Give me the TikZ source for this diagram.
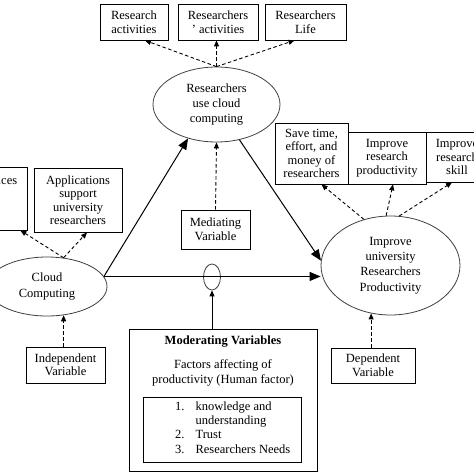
\documentclass[tikz,border=0pt]{standalone}
\usepackage{fontspec}
\setmainfont{Liberation Serif}
\usetikzlibrary{arrows.meta,calc,shapes.geometric}
\begin{document}
\begin{tikzpicture}[x=1pt,y=-1pt,
  every node/.style={font=\fontsize{12.5}{13.5}\selectfont, align=center, inner sep=0pt},
  box/.style={draw, line width=0.8pt, rectangle},
  ell/.style={draw=black!75, line width=0.8pt, ellipse},
  main/.style={line width=1pt, -{Triangle[length=11pt,width=9pt]}},
  dasharr/.style={line width=0.9pt, dash pattern=on 3.5pt off 2.5pt, -{Triangle[length=6pt,width=5pt]}},
  thinarr/.style={line width=1pt, -{Triangle[length=6pt,width=5pt]}}
]
\useasboundingbox (0,0) rectangle (474,474);
\fill[white] (0,0) rectangle (474,474);
\clip (0,0) rectangle (474,474);

% top row
\node[box, minimum width=68, minimum height=36] (ra) at (134,22) {Research\\activities};
\node[box, minimum width=80, minimum height=36] (rsa) at (218,22) {Researchers\\' activities};
\node[box, minimum width=81, minimum height=36] (rl) at (305.5,22) {Researchers\\Life};
\node[ell, minimum width=127, minimum height=75, font=\fontsize{12.5}{15}\selectfont] (top) at (216.5,104.5) {Researchers\\use cloud\\computing};

% left
\node[box, minimum width=62, minimum height=63] (svc) at (-4,198.5) {};
\node (svct) at (-4,180) {Services};
\node[box, minimum width=88, minimum height=64] (app) at (78,200) {Applications\\support\\university\\researchers};
\node[ell, minimum width=120, minimum height=59, font=\fontsize{12.5}{16}\selectfont] (cloud) at (47,286.5) {Cloud\\Computing};
\node[box, minimum width=79, minimum height=36] (indep) at (65.5,365) {Independent\\Variable};

% middle
\node[box, minimum width=69, minimum height=39] (med) at (215.5,229.5) {Mediating\\Variable};
\node[ell, minimum width=17, minimum height=26] (mell) at (212,277) {};
\node[box, minimum width=188, minimum height=142] (mod) at (223,400) {};
\node (modt) at (223,342) {\textbf{Moderating Variables}};
\node[font=\fontsize{12.5}{15}\selectfont] (modf) at (223,372.5) {Factors affecting of\\productivity (Human factor)};
\node[box, minimum width=158, minimum height=65] (inner) at (222,429.5) {};
\node[anchor=west, font=\fontsize{12.5}{14.2}\selectfont] (list) at (175,429) {\begin{tabular}{@{}l@{\hspace{11pt}}l@{}}1. & knowledge and\\ & understanding\\2. & Trust\\3. & Researchers Needs\end{tabular}};

% right
\node[ell, minimum width=139, minimum height=99, font=\fontsize{12.5}{15.3}\selectfont] (imp) at (390.5,265.5) {Improve\\university\\Researchers\\Productivity};
\node[box, minimum width=73, minimum height=61] (save) at (311.5,153.5) {Save time,\\effort, and\\money of\\researchers};
\node[box, minimum width=78, minimum height=52] (irp) at (387,158) {Improve\\research\\productivity};
\node[box, minimum width=62, minimum height=50] (irs) at (457,157) {Improve\\research\\skill};
\node[box, minimum width=84, minimum height=35] (dep) at (373,365.5) {Dependent\\Variable};

% dashed connectors
\draw[dasharr] (top.north) -- ($(ra.south)+(11,0)$);
\draw[dasharr] (top.north) -- (top.north |- rsa.south);
\draw[dasharr] (top.north) -- ($(rl.south)+(-11,0)$);
\draw[dasharr] (med.north) -- (top.south);
\draw[dasharr] (cloud.60) -- ($(svc.south east)+(-7,0)$);
\draw[dasharr] (cloud.60) -- ($(app.south)+(9,0)$);
\draw[dasharr] (indep.north -| cloud.-60) -- (cloud.-60);
\draw[dasharr] (dep.north -| imp.-112) -- (imp.-112);
\draw[dasharr] (imp.120) -- ($(save.south)+(10,0)$);
\draw[dasharr] (imp.95) -- ($(irp.south)+(6,0)$);
\draw[dasharr] (imp.80) -- ($(irs.south)+(-5,0)$);

% solid connectors
\draw[main] (cloud.10) -- (top.230);
\draw[main] (cloud.10) -- (cloud.10 -| imp.west);
\draw[main] (top.303) -- (imp.176);
\draw[thinarr] (mod.north -| mell.south) -- (mell.south);
\end{tikzpicture}
\end{document}
